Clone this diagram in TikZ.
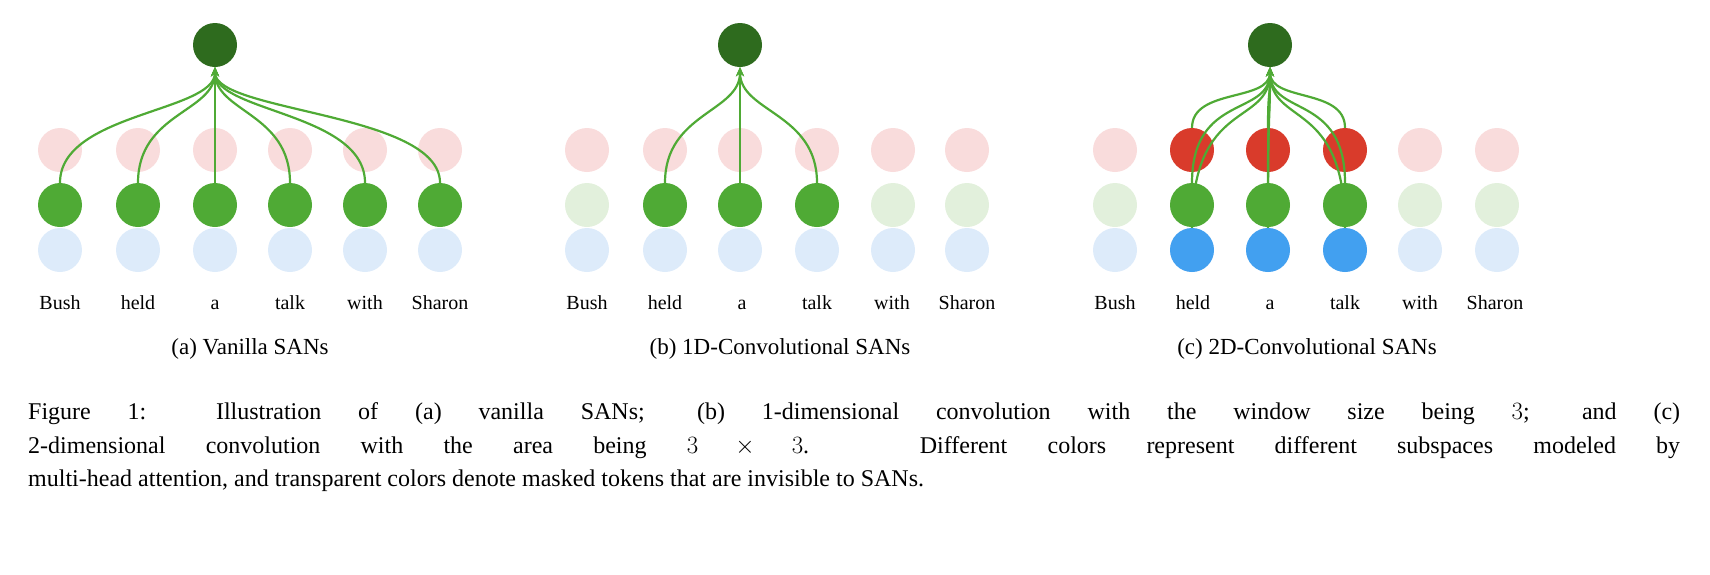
\documentclass[tikz,border=0pt]{standalone}
\usepackage{fontspec}
\setmainfont{Liberation Serif}
\usetikzlibrary{arrows.meta,calc}
\definecolor{lred}{HTML}{F9DCDC}
\definecolor{lgreen}{HTML}{E2F0DC}
\definecolor{lblue}{HTML}{DDEBFA}
\definecolor{gr}{HTML}{4FAA35}
\definecolor{dgr}{HTML}{2E6B1E}
\definecolor{rd}{HTML}{D93B2B}
\definecolor{bl}{HTML}{42A0F0}
\begin{document}
\begin{tikzpicture}[x=1pt,y=-1pt,
 dot/.style={circle,minimum size=44pt,inner sep=0pt,draw=none},
 word/.style={font=\fontsize{20}{22}\selectfont,anchor=base},
 sub/.style={font=\fontsize{23}{26}\selectfont,anchor=base},
 figcap/.style={font=\fontsize{24}{28}\selectfont,anchor=base west,inner sep=0pt},
 ed/.style={draw=gr,line width=2.2pt,-{Stealth[length=9pt,width=8pt]}}]
\useasboundingbox (0,0) rectangle (1710,574);
% panel (a)
\node[dot,fill=dgr] (ta) at (215,45) {};
\foreach \x [count=\i] in {60,138,215,290,365,440}{
 \node[dot,fill=lred] (ar\i) at (\x,150) {};
 \node[dot,fill=gr] (ag\i) at (\x,205) {};
 \node[dot,fill=lblue] (ab\i) at (\x,250) {};}
\foreach \i in {1,...,6}{
 \draw[ed] (ag\i.north) .. controls ($(ag\i.north)+(0,-70)$) and ($(ta.south)+(0,45)$) .. (ta.south);}
% panel (b)
\node[dot,fill=dgr] (tb) at (740,45) {};
\foreach \x [count=\i] in {587,665,740,817,893,967}{
 \node[dot,fill=lred] (br\i) at (\x,150) {};
 \node[dot,fill=lgreen] (bg\i) at (\x,205) {};
 \node[dot,fill=lblue] (bb\i) at (\x,250) {};}
\foreach \i in {2,3,4}{\node[dot,fill=gr] at (bg\i) {};}
\foreach \i in {2,3,4}{
 \draw[ed] (bg\i.north) .. controls ($(bg\i.north)+(0,-70)$) and ($(tb.south)+(0,45)$) .. (tb.south);}
% panel (c)
\node[dot,fill=dgr] (tc) at (1270,45) {};
\foreach \x [count=\i] in {1115,1192,1268,1345,1420,1497}{
 \node[dot,fill=lred] (cr\i) at (\x,150) {};
 \node[dot,fill=lgreen] (cg\i) at (\x,205) {};
 \node[dot,fill=lblue] (cb\i) at (\x,250) {};}
\foreach \i in {2,3,4}{
 \node[dot,fill=rd] at (cr\i) {};
 \node[dot,fill=gr] at (cg\i) {};
 \node[dot,fill=bl] at (cb\i) {};}
\foreach \i in {2,3,4}{
 \draw[ed] (cr\i.north) .. controls ($(cr\i.north)+(0,-40)$) and ($(tc.south)+(0,35)$) .. (tc.south);
 \draw[ed] (cg\i.north) .. controls ($(cg\i.north)+(0,-90)$) and ($(tc.south)+(0,50)$) .. (tc.south);
 \draw[ed] (cb\i.north) .. controls ($(cb\i.north)+(0,-130)$) and ($(tc.south)+(0,60)$) .. (tc.south);}
% words
\foreach \dx/\n in {0/a,527/b,1055/c}{
 \foreach \x/\w in {60/Bush,138/held,215/a,290/talk,365/with,440/Sharon}{
  \node[word] (w\n\w) at (\x+\dx,309) {\w};}}
\node[sub] (sa) at (250,354) {(a) Vanilla SANs};
\node[sub] (sb) at (780,354) {(b) 1D-Convolutional SANs};
\node[sub] (sc) at (1307,354) {(c) 2D-Convolutional SANs};
% caption
\node[figcap] (c1) at (28,419) {\makebox[1652pt][s]{Figure 1: Illustration of (a) vanilla SANs; (b) 1-dimensional convolution with the window size being $3$; and (c)}};
\node[figcap] (c2) at (28,453) {\makebox[1652pt][s]{2-dimensional convolution with the area being $3\times 3$. Different colors represent different subspaces modeled by}};
\node[figcap] (c3) at (28,486) {multi-head attention, and transparent colors denote masked tokens that are invisible to SANs.};
\end{tikzpicture}
\end{document}
